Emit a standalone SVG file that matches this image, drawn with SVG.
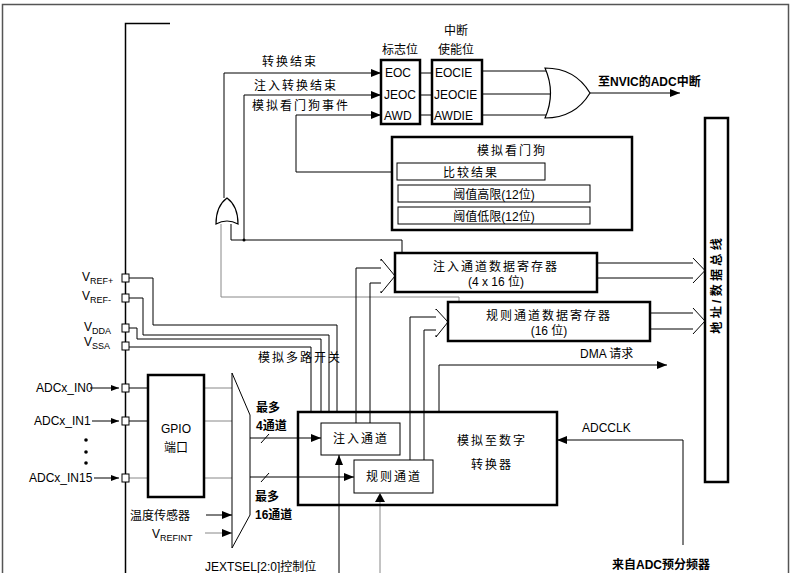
<svg xmlns="http://www.w3.org/2000/svg" width="794" height="573" viewBox="0 0 794 573">
<defs>
<marker id="a" markerWidth="10" markerHeight="8" refX="10" refY="4" orient="auto" markerUnits="userSpaceOnUse"><path d="M0,0 L10,4 L0,8 Z" fill="#000"/></marker>
<marker id="s" markerWidth="8" markerHeight="6" refX="8" refY="3" orient="auto" markerUnits="userSpaceOnUse"><path d="M0,0 L8,3 L0,6 Z" fill="#000"/></marker>
</defs>
<style>
text{font-family:"Liberation Sans","Noto Sans CJK SC",sans-serif;fill:#000;font-size:12px}
.c{text-anchor:middle}
.k{letter-spacing:2px}
.b{fill:#fff;stroke:#000;stroke-width:2.5}
.t{fill:#fff;stroke:#000;stroke-width:1}
.l{fill:none;stroke:#000;stroke-width:1}
.g{fill:none;stroke:#888;stroke-width:1}
.p{fill:#fff;stroke:#000;stroke-width:1}
</style>
<rect x="0" y="0" width="794" height="573" fill="#fff"/>
<rect x="2.5" y="4.5" width="786" height="575" fill="none" stroke="#555" stroke-width="1.5"/>
<path d="M170,23.5 H125.5 V573" fill="none" stroke="#000" stroke-width="1.5"/>
<g id="connectors">
<path class="l" d="M224,198 V73 H381" marker-end="url(#a)"/>
<path class="l" d="M244,240 V95 H381" marker-end="url(#a)"/>
<path class="l" d="M296,115 H381" marker-end="url(#a)"/>
<path class="l" d="M397,172 H296 V115"/>
<circle cx="244" cy="240" r="1.5"/>
<path class="l" d="M231,224 V240 H402 V253"/>
<path class="g" d="M221,224 V297 H459 V302"/>
<path class="l" d="M420,73 H432 M420,95 H432 M420,115 H432"/>
<path class="l" d="M482,71 H550 M482,94 H553 M482,115 H548"/>
<path class="l" d="M590,93 H680" marker-end="url(#a)"/>
<path class="l" d="M597,263 H693 M597,278 H693 M693,258 L705,270.5 L693,283"/>
<path class="l" d="M650,313 H693 M650,329 H693 M693,308 L705,321 L693,334"/>
<path class="l" d="M356,423 V268 H381 M370,423 V283 H381 M381,261 V259 L395,276 L381,293 V291"/>
<path class="l" d="M410,460 V317 H436 M424,460 V330 H436 M436,310 V309 L448,322 L436,337 V335"/>
<path class="l" d="M439,412 V365 H667" marker-end="url(#a)"/>
<path class="l" d="M683,545 V440 H557" marker-end="url(#a)"/>
<path class="l" d="M129,278 H153 V325 H337 V412"/>
<path class="l" d="M129,298 H143 V335 H329 V412"/>
<path class="l" d="M129,328 H137 V339 H321 V412"/>
<path class="l" d="M129,347 H311 V412"/>
<path class="l" d="M90,388 H119" marker-end="url(#s)"/>
<path class="l" d="M92,421 H119" marker-end="url(#s)"/>
<path class="l" d="M94,478 H119" marker-end="url(#s)"/>
<path class="l" d="M129,388 H148 M129,421 H148"/>
<path class="g" d="M129,478 H148 M204,388 H232 M204,421 H232 M204,478 H232"/>
<path class="l" d="M206,515 H232" marker-end="url(#a)"/>
<path class="g" d="M205,533 H232"/>
<path d="M222,529 L232,533 L222,537 Z"/>
<path class="l" d="M250,438 H321" marker-end="url(#a)"/>
<path class="l" d="M250,477 H354" marker-end="url(#a)"/>
<path class="l" d="M261,443 L269,434 M261,482 L269,473"/>
<path class="l" d="M339,573 V455" marker-end="url(#a)"/>
<path class="g" d="M380,573 V501"/>
<path d="M375,502 L380,493 L385,502 Z"/>
<circle cx="86" cy="440" r="1.8"/><circle cx="86" cy="452" r="1.8"/><circle cx="86" cy="463" r="1.8"/>
</g>
<g id="flags"><rect class="b" x="381" y="60" width="39" height="64"/>
<text x="385" y="77" font-size="11">EOC</text><text x="384" y="99" font-size="11">JEOC</text><text x="384" y="120" font-size="11">AWD</text>
<text class="c" x="400" y="54" font-size="14">标志位</text></g>
<g id="enable"><rect class="b" x="432" y="60" width="50" height="64"/>
<text x="435" y="77" font-size="11">EOCIE</text><text x="434" y="99" font-size="11">JEOCIE</text><text x="434" y="120" font-size="11">AWDIE</text>
<text class="c" x="456" y="35" font-size="14">中断</text><text class="c" x="456" y="54" font-size="14">使能位</text></g>
<g id="or1"><path d="M545,68 Q575,68 590,93 Q575,118 545,118 Q556,93 545,68 Z" fill="#fff" stroke="#000" stroke-width="1.2"/></g>
<text x="598" y="86" font-size="12" font-weight="bold">至NVIC的ADC中断</text>
<text class="k" x="262" y="66" font-size="13">转换结束</text>
<text class="k" x="254" y="90" font-size="13">注入转换结束</text>
<text class="k" x="252" y="110" font-size="13">模拟看门狗事件</text>
<g id="or2"><path d="M216,224 Q216,206 227,198 Q238,206 238,224 Q227,218 216,224 Z" fill="#fff" stroke="#000" stroke-width="1.2"/></g>
<g id="watchdog"><rect class="b" x="392" y="137" width="240" height="93" stroke-width="2"/>
<text class="c k" x="512" y="155" font-size="13">模拟看门狗</text>
<rect class="t" x="397" y="163" width="148" height="17"/><text class="c k" x="471" y="177" font-size="13">比较结果</text>
<rect class="t" x="398" y="185" width="192" height="17"/><text class="c" x="494" y="199" font-size="13">阈值高限(12位)</text>
<rect class="t" x="398" y="207" width="192" height="17"/><text class="c" x="494" y="221" font-size="13">阈值低限(12位)</text></g>
<g id="injreg"><rect class="b" x="395" y="253" width="202" height="39"/>
<text class="c k" x="496" y="271" font-size="13">注入通道数据寄存器</text><text class="c" x="496" y="286" font-size="10">(4 x 16 位)</text></g>
<g id="regreg"><rect class="b" x="448" y="302" width="202" height="39"/>
<text class="c k" x="549" y="320" font-size="13">规则通道数据寄存器</text><text class="c" x="549" y="335" font-size="10">(16 位)</text></g>
<g id="bus"><rect class="b" x="705" y="118" width="23" height="364"/>
<text class="c" transform="translate(721,286) rotate(-90)" font-size="13" font-weight="bold">地 址 / 数 据 总 线</text></g>
<text x="580" y="358" font-size="11">DMA 请求</text>
<g id="adc"><rect x="298" y="412" width="259" height="93" style="fill:none;stroke:#000;stroke-width:2.5"/>
<text class="c k" x="492" y="445" font-size="13">模拟至数字</text><text class="c k" x="492" y="469" font-size="13">转换器</text></g>
<g id="inj"><rect class="t" x="321" y="423" width="79" height="32"/><text class="c k" x="361" y="443" font-size="13">注入通道</text></g>
<g id="reg"><rect class="t" x="354" y="460" width="79" height="33"/><text class="c k" x="394" y="481" font-size="13">规则通道</text></g>
<text x="582" y="432" font-size="13">ADCCLK</text>
<text x="612" y="569" font-size="12" font-weight="bold">来自ADC预分频器</text>
<g id="mux"><path d="M232,373 L250,415 L250,515 L232,548 Z" fill="#fff" stroke="#000" stroke-width="1"/>
<text class="k" x="258" y="362" font-size="12">模拟多路开关</text></g>
<text x="256" y="412" font-size="13" font-weight="bold">最多</text><text x="256" y="430" font-size="13" font-weight="bold">4通道</text>
<text x="255" y="501" font-size="13" font-weight="bold">最多</text><text x="255" y="519" font-size="13" font-weight="bold">16通道</text>
<g id="gpio"><rect class="b" x="148" y="375" width="56" height="122" stroke-width="2"/>
<text class="c" x="176" y="433" font-size="11">GPIO</text><text class="c" x="176" y="452" font-size="13">端口</text></g>
<text x="130" y="520" font-size="13">温度传感器</text>
<text x="152" y="538" font-size="12">V<tspan font-size="9" dy="3">REFINT</tspan></text>
<text x="205" y="571" font-size="12">JEXTSEL[2:0]控制位</text>
<g id="pins">
<rect class="p" x="122" y="274" width="7" height="8"/><rect class="p" x="122" y="294" width="7" height="8"/>
<rect class="p" x="122" y="324" width="7" height="8"/><rect class="p" x="122" y="342" width="7" height="8"/>
<rect class="p" x="122" y="384" width="7" height="8"/><rect class="p" x="122" y="417" width="7" height="8"/>
<rect class="p" x="122" y="474" width="7" height="8"/></g>
<text x="82" y="281" font-size="12">V<tspan font-size="9" dy="3">REF+</tspan></text>
<text x="82" y="300" font-size="12">V<tspan font-size="9" dy="3">REF-</tspan></text>
<text x="84" y="331" font-size="12">V<tspan font-size="9" dy="3">DDA</tspan></text>
<text x="84" y="346" font-size="12">V<tspan font-size="9" dy="3">SSA</tspan></text>
<text x="36" y="392" font-size="11">ADCx_IN0</text>
<text x="34" y="425" font-size="11">ADCx_IN1</text>
<text x="29" y="482" font-size="11">ADCx_IN15</text>
</svg>
